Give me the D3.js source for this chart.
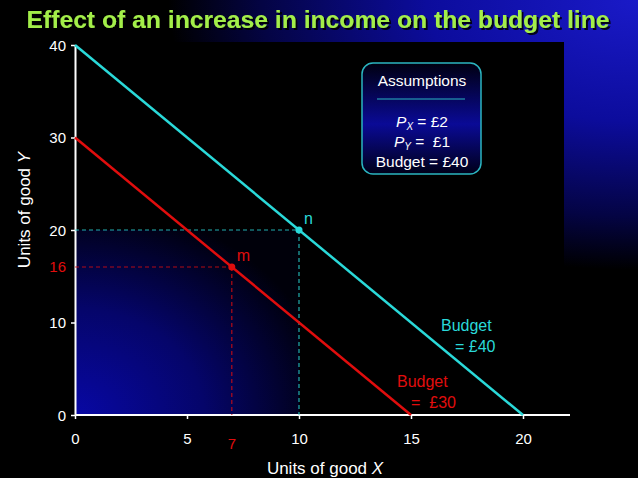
<!DOCTYPE html>
<html>
<head>
<meta charset="utf-8">
<script src="https://cdn.jsdelivr.net/npm/d3@7"></script>
<style>
  html, body { margin: 0; padding: 0; background: #000; }
  svg { display: block; }
  text { white-space: pre; }
</style>
</head>
<body>
<div id="chart"></div>
<script>
// chart values
const xTicks = [0, 5, 10, 15, 20];
const yTicks = [0, 10, 20, 30, 40];
const priceX = 2;
const priceY = 1;
const budgets = [30, 40];
const budgetLabels = ["Budget|=  £30", "Budget|= £40"];
const bundleNames = ["m", "n"];
const bundleX = [7, 10];
const bundleY = [16, 20];
const assumptionLines = ["Px = £2", "Py =  £1", "Budget = £40"];

const width = 638, height = 478;
const margin = { left: 75, top: 45, right: 115, bottom: 63 };
const colors = ["#e00d0d", "#2ad9d9"];
const font = "'Liberation Sans', Arial, sans-serif";

const svg = d3.select("#chart").append("svg")
    .attr("width", width)
    .attr("height", height)
    .attr("font-family", font);

const defs = svg.append("defs");

// slide background: blue glow in the upper right
const bg = defs.append("radialGradient").attr("id", "bgGrad")
    .attr("gradientUnits", "userSpaceOnUse")
    .attr("cx", width).attr("cy", 0).attr("r", 1)
    .attr("gradientTransform", `translate(${width},0) scale(470,270) translate(${-width},0)`);
bg.append("stop").attr("offset", 0).attr("stop-color", "#1a1ac8");
bg.append("stop").attr("offset", 0.45).attr("stop-color", "#0c0c9c");
bg.append("stop").attr("offset", 0.8).attr("stop-color", "#040444");
bg.append("stop").attr("offset", 1).attr("stop-color", "#000000");

const shadow = defs.append("filter").attr("id", "titleShadow")
    .attr("x", "-5%").attr("y", "-20%").attr("width", "110%").attr("height", "150%");
shadow.append("feDropShadow").attr("dx", 2).attr("dy", 2).attr("stdDeviation", 0.6)
    .attr("flood-color", "#000").attr("flood-opacity", 0.85);

svg.append("rect").attr("class", "bg")
    .attr("width", width).attr("height", height).attr("fill", "#000");
svg.append("rect").attr("class", "bg-glow")
    .attr("width", width).attr("height", height).attr("fill", "url(#bgGrad)");
svg.append("rect").attr("class", "plot-panel")
    .attr("x", 0).attr("y", 42).attr("width", 564).attr("height", height - 42)
    .attr("fill", "#000");

// title
svg.append("text").attr("class", "title")
    .attr("x", 318).attr("y", 28)
    .attr("text-anchor", "middle")
    .attr("font-size", 24.7).attr("font-weight", "bold")
    .attr("fill", "#a3ee4a")
    .attr("filter", "url(#titleShadow)")
    .text("Effect of an increase in income on the budget line");

const x = d3.scaleLinear().domain([0, 20]).range([margin.left, 523]);
const y = d3.scaleLinear().domain([0, 40]).range([415, margin.top]);

// shaded bundle area for the higher budget
const fill = defs.append("radialGradient").attr("id", "areaGrad")
    .attr("cx", 0).attr("cy", 1).attr("r", 1.15);
fill.append("stop").attr("offset", 0).attr("stop-color", "#0808a4");
fill.append("stop").attr("offset", 0.5).attr("stop-color", "#05056a");
fill.append("stop").attr("offset", 1).attr("stop-color", "#00000a");

const last = bundleNames.length - 1;
svg.append("rect").attr("class", "area")
    .attr("x", x(0)).attr("y", y(bundleY[last]))
    .attr("width", x(bundleX[last]) - x(0))
    .attr("height", y(0) - y(bundleY[last]))
    .attr("fill", "url(#areaGrad)");

// axes
const xAxis = svg.append("g").attr("class", "x-axis")
    .attr("transform", `translate(0,${y(0)})`)
    .call(d3.axisBottom(x).tickValues(xTicks).tickSize(4).tickPadding(14).tickSizeOuter(0));
xAxis.select(".domain").attr("d", `M${x(0)},0H570`);
const yAxis = svg.append("g").attr("class", "y-axis")
    .attr("transform", `translate(${x(0)},0)`)
    .call(d3.axisLeft(y).tickValues(yTicks).tickSize(4).tickPadding(5).tickSizeOuter(0));

[xAxis, yAxis].forEach(a => {
    a.select(".domain").attr("stroke", "#fff").attr("stroke-width", 2);
    a.selectAll(".tick line").attr("stroke", "#fff").attr("stroke-width", 1.5);
    a.selectAll(".tick text").attr("fill", "#fff")
        .attr("font-size", 15).attr("font-family", font);
});
yAxis.selectAll(".tick text").attr("dy", "0.36em");

// axis titles
svg.append("text").attr("class", "x-title")
    .attr("x", 325).attr("y", 474)
    .attr("text-anchor", "middle").attr("font-size", 17).attr("fill", "#fff")
    .html('Units of good <tspan font-style="italic">X</tspan>');
svg.append("text").attr("class", "y-title")
    .attr("transform", "translate(30,210) rotate(-90)")
    .attr("text-anchor", "middle").attr("font-size", 17).attr("fill", "#fff")
    .html('Units of good <tspan font-style="italic">Y</tspan>');

// guide lines to each bundle
bundleNames.forEach((name, i) => {
    const g = svg.append("g").attr("class", "guides-" + name)
        .attr("stroke", colors[i]).attr("stroke-width", 1.2)
        .attr("stroke-dasharray", "4,3").attr("opacity", 0.8).attr("fill", "none");
    g.append("line")
        .attr("x1", x(0)).attr("x2", x(bundleX[i]))
        .attr("y1", y(bundleY[i])).attr("y2", y(bundleY[i]));
    g.append("line")
        .attr("x1", x(bundleX[i])).attr("x2", x(bundleX[i]))
        .attr("y1", y(bundleY[i])).attr("y2", y(0));
});

// budget lines
budgets.forEach((b, i) => {
    svg.append("line").attr("class", "budget-line")
        .attr("x1", x(0)).attr("y1", y(b / priceY))
        .attr("x2", x(b / priceX)).attr("y2", y(0))
        .attr("stroke", colors[i]).attr("stroke-width", 2.5);
});

// bundle points
bundleNames.forEach((name, i) => {
    svg.append("circle").attr("class", "bundle")
        .attr("cx", x(bundleX[i])).attr("cy", y(bundleY[i])).attr("r", 3.5)
        .attr("fill", colors[i]);
    svg.append("text").attr("class", "bundle-label")
        .attr("x", x(bundleX[i]) + 5).attr("y", y(bundleY[i]) - 6)
        .attr("font-size", 16).attr("fill", colors[i])
        .text(name);
});

// red extra tick labels for bundle m
svg.append("text").attr("class", "m-y")
    .attr("x", x(0) - 9).attr("y", y(bundleY[0])).attr("dy", "0.36em")
    .attr("text-anchor", "end").attr("font-size", 15)
    .attr("fill", colors[0]).text(bundleY[0]);
svg.append("text").attr("class", "m-x")
    .attr("x", x(bundleX[0])).attr("y", 449)
    .attr("text-anchor", "middle").attr("font-size", 15)
    .attr("fill", colors[0]).text(bundleX[0]);

// budget labels
const labelPos = [[397, 387], [441, 331]];
budgetLabels.forEach((lab, i) => {
    const parts = lab.split("|");
    const t = svg.append("text").attr("class", "budget-label")
        .attr("font-size", 16).attr("fill", colors[i]);
    t.append("tspan").attr("x", labelPos[i][0]).attr("y", labelPos[i][1]).text(parts[0]);
    t.append("tspan").attr("x", labelPos[i][0] + 14).attr("y", labelPos[i][1] + 21).text(parts[1]);
});

// assumptions box
const boxGrad = defs.append("linearGradient").attr("id", "boxGrad")
    .attr("x1", 0).attr("y1", 0).attr("x2", 0).attr("y2", 1);
boxGrad.append("stop").attr("offset", 0).attr("stop-color", "#000010");
boxGrad.append("stop").attr("offset", 0.55).attr("stop-color", "#0a0a96");
boxGrad.append("stop").attr("offset", 1).attr("stop-color", "#000018");

const box = svg.append("g").attr("class", "assumptions").attr("transform", "translate(362,63)");
box.append("rect").attr("width", 119).attr("height", 111).attr("rx", 11)
    .attr("fill", "url(#boxGrad)").attr("stroke", "#2bb5c0").attr("stroke-width", 1.5);
box.append("text").attr("x", 60).attr("y", 23).attr("text-anchor", "middle")
    .attr("font-size", 15.5).attr("fill", "#fff").text("Assumptions");
box.append("line").attr("x1", 15).attr("x2", 103).attr("y1", 36).attr("y2", 36)
    .attr("stroke", "#2bb5c0").attr("stroke-width", 1.2);
assumptionLines.forEach((s, i) => {
    const t = box.append("text").attr("x", 60).attr("y", 64 + i * 20)
        .attr("text-anchor", "middle").attr("font-size", 15.5).attr("fill", "#fff");
    if (s[0] === "P") {
        t.append("tspan").attr("font-style", "italic").text("P");
        t.append("tspan").attr("font-style", "italic").attr("font-size", 10).attr("dy", 3)
            .text(s[1].toUpperCase());
        t.append("tspan").attr("dy", -3).text(s.slice(2));
    } else {
        t.text(s);
    }
});
</script>
</body>
</html>
